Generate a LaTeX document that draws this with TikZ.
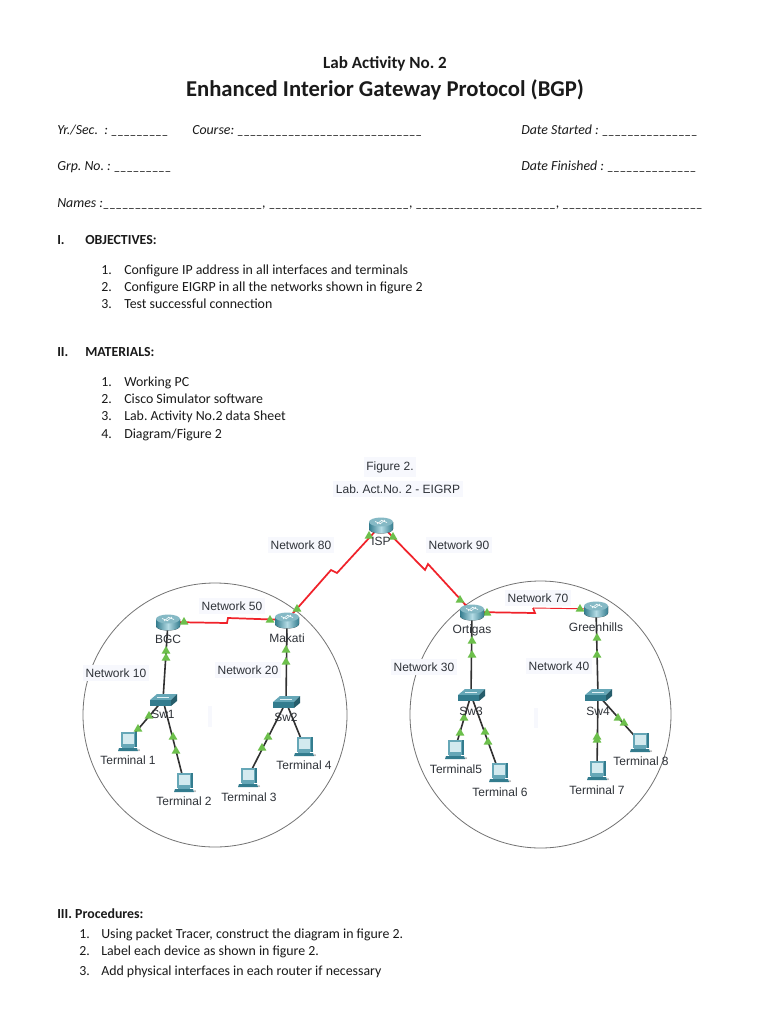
\documentclass[tikz,border=0pt]{standalone}
\usepackage{fontspec}
\setmainfont{Carlito}
\newfontfamily\diag{Liberation Sans}
\frenchspacing
\usetikzlibrary{shapes.geometric}
\definecolor{ink}{HTML}{1A1A1A}
\definecolor{dtext}{HTML}{2E3238}
\definecolor{lampg}{HTML}{6CBF4B}
\definecolor{serial}{HTML}{F0222A}
\definecolor{tealD}{HTML}{337C8E}
\definecolor{tealM}{HTML}{66A7B7}
\definecolor{tealL}{HTML}{B5DCE5}
\definecolor{labelbg}{HTML}{F7F8FD}
\newcommand{\us}[1]{\foreach \k in {1,...,#1}{\_\kern-0.4pt}}
\tikzset{
  doc/.style={anchor=base west,inner sep=0pt,font=\fontsize{10.4pt}{12pt}\selectfont,text=ink},
  form/.style={doc,font=\fontsize{10.4pt}{12pt}\selectfont\itshape},
  head/.style={doc,font=\fontsize{10.4pt}{12pt}\selectfont\bfseries},
  devlabel/.style={inner sep=0pt,font=\diag\fontsize{9pt}{10pt}\selectfont,text=dtext},
  netlabel/.style={devlabel,fill=labelbg,inner xsep=2pt,inner ysep=3pt},
  lan/.style={line width=1.2pt,draw=ink!90},
  wan/.style={line width=1.3pt,draw=serial,line join=miter},
  zone/.style={draw=black!55,line width=0.6pt},
  lamp/.style={regular polygon,regular polygon sides=3,fill=lampg,inner sep=0pt,minimum size=7.5pt},
  router/.pic={
    \fill[left color=tealD,right color=tealD,middle color=tealL] (-12,-3) -- (-12,4) arc[start angle=180,end angle=0,x radius=12,y radius=4.5] -- (12,-3) -- cycle;
    \fill[tealM!80!white] (0,-3) ellipse[x radius=12,y radius=4.5];
    \draw[white!85!tealL,line width=0.5pt] (-6,-3.5) -- (-1,-1.5) (1,-4.5) -- (6,-2.5) (-4,-1) -- (1,-5) (-1,-1) -- (4,-5);
  },
  switchicon/.pic={
    \fill[tealM] (-13,0) -- (-6,-6) -- (14,-6) -- (8,0) -- cycle;
    \fill[tealD] (-13,0) -- (8,0) -- (8,6) -- (-13,6) -- cycle;
    \fill[tealD!75!black] (8,0) -- (14,-6) -- (14,1) -- (8,6) -- cycle;
    \draw[white!60!tealL,line width=0.4pt] (-6,-3) -- (6,-3);
  },
  pcicon/.pic={
    \fill[tealM] (-7,-9) rectangle (8,6);
    \fill[tealD] (6.5,-9) rectangle (9,6);
    \fill[tealL!60!white] (-5,-7) rectangle (6,3);
    \fill[tealD] (-9,7) -- (9,7) -- (10,10) -- (-10,10) -- cycle;
    \fill[tealM] (-6,5) rectangle (6,7);
    \fill[black!35] (11,9) circle (1);
  }
}
\begin{document}
\begin{tikzpicture}[x=0.75pt,y=-0.75pt]
\useasboundingbox[fill=white] (0,0) rectangle (768,1024);

% header
\node[doc,anchor=base,font=\fontsize{12.8pt}{14pt}\selectfont\bfseries] (t1) at (385,69) {Lab Activity No. 2};
\node[doc,anchor=base,font=\fontsize{17pt}{20pt}\selectfont\bfseries] (t2) at (385,96) {Enhanced Interior Gateway Protocol (BGP)};

% form
\node[form] (f1) at (57,134) {Yr./Sec.\ \ : \us{9}};
\node[form] (f2) at (192,134) {Course: \us{29}};
\node[form] (f3) at (521,134) {Date Started : \us{15}};
\node[form] (f4) at (57,170) {Grp. No. : \us{9}};
\node[form] (f5) at (521,170) {Date Finished : \us{14}};
\node[form] (f6) at (57,207) {Names :\us{25}, \us{22}, \us{22}, \us{22}};

% objectives
\node[head] (h1a) at (57,244) {I.};
\node[head] (h1b) at (85,244) {OBJECTIVES:};
\node[doc] (o1n) at (101,274) {1.};
\node[doc] (o1) at (124,274) {Configure IP address in all interfaces and terminals};
\node[doc] (o2n) at (101,291) {2.};
\node[doc] (o2) at (124,291) {Configure EIGRP in all the networks shown in figure 2};
\node[doc] (o3n) at (101,308) {3.};
\node[doc] (o3) at (124,308) {Test successful connection};

% materials
\node[head] (h2a) at (57,356) {II.};
\node[head] (h2b) at (85,356) {MATERIALS:};
\node[doc] (m1n) at (101,386) {1.};
\node[doc] (m1) at (124,386) {Working PC};
\node[doc] (m2n) at (101,403) {2.};
\node[doc] (m2) at (124,403) {Cisco Simulator software};
\node[doc] (m3n) at (101,420) {3.};
\node[doc] (m3) at (124,420) {Lab. Activity No.2 data Sheet};
\node[doc] (m4n) at (101,438) {4.};
\node[doc] (m4) at (124,438) {Diagram/Figure 2};

% procedures
\node[head] (h3) at (57,918) {III. Procedures:};
\node[doc] (p1n) at (79,938) {1.};
\node[doc] (p1) at (101,938) {Using packet Tracer, construct the diagram in figure 2.};
\node[doc] (p2n) at (79,955) {2.};
\node[doc] (p2) at (101,955) {Label each device as shown in figure 2.};
\node[doc] (p3n) at (79,975) {3.};
\node[doc] (p3) at (101,975) {Add physical interfaces in each router if necessary};

% zones
\draw[zone] (215,715) ellipse[x radius=132,y radius=132];
\draw[zone] (540.5,714.5) ellipse[x radius=130.5,y radius=133.5];
\fill[labelbg] (208,706) rectangle (212,727);
\fill[labelbg] (534,708) rectangle (538,728);

% devices
\coordinate (isp) at (381,525);
\coordinate (makati) at (287,620);
\coordinate (bgc) at (168,622);
\coordinate (ortigas) at (472,612);
\coordinate (green) at (596,609);
\coordinate (sw1) at (163,700);
\coordinate (sw2) at (286,702);
\coordinate (sw3) at (471,695);
\coordinate (sw4) at (598,695);
\coordinate (pc1) at (128,741);
\coordinate (pc2) at (184,782);
\coordinate (pc3) at (248,777);
\coordinate (pc4) at (304,746);
\coordinate (pc5) at (455,749);
\coordinate (pc6) at (499,772);
\coordinate (pc7) at (597,770);
\coordinate (pc8) at (640,742);

% serial bends
\coordinate (a1) at (331,570);
\coordinate (a2) at (337,573);
\coordinate (b1) at (425,570);
\coordinate (b2) at (428,564);
\coordinate (c1) at (227,623);
\coordinate (c2) at (228,618);
\coordinate (d1) at (535,613);
\coordinate (d2) at (533,608);

% links
\draw[wan] (isp) -- (a2) -- (a1) -- (makati);
\draw[wan] (isp) -- (b1) -- (b2) -- (ortigas);
\draw[wan] (bgc) -- (c1) -- (c2) -- (makati);
\draw[wan] (ortigas) -- (d1) -- (d2);
\draw[wan,line width=0.7pt] (d2) -- (green);
\foreach \from/\to in {sw1/bgc,sw2/makati,sw3/ortigas,sw4/green,sw1/pc1,sw1/pc2,sw2/pc3,sw2/pc4,sw3/pc5,sw3/pc6,sw4/pc7,sw4/pc8}
  \draw[lan] (\from) -- (\to);

% link lights
\foreach \p [count=\i] in {(184,622),(270,620),(297,609),(369,536),(393,537),(460,600),(487,613),(580,609),
  (166,651),(166,658),(286,650),(286,662),(149,716),(138,729),(173,737),(176,751),(268,737),(262,748),
  (472,641),(472,655),(597,638),(597,655),(464,718),(460,733),(485,732),(488,742),(597,737),(597,740),(618,718),(624,723)}
  \node[lamp] (lamp\i) at \p {};

% icons
\foreach \c in {isp,makati,bgc,ortigas,green} \pic at (\c) {router};
\foreach \c in {sw1,sw2,sw3,sw4} \pic at (\c) {switchicon};
\foreach \c in {pc1,pc2,pc3,pc4,pc5,pc6,pc7,pc8} \pic at (\c) {pcicon};

% labels
\node[netlabel] (fig) at (390,467) {Figure 2.};
\node[netlabel] (lab) at (398,489) {Lab. Act.No. 2 - EIGRP};
\node[netlabel] (n80) at (301,545) {Network 80};
\node[netlabel] (n90) at (459,545) {Network 90};
\node[netlabel] (n50) at (232,606) {Network 50};
\node[netlabel] (n70) at (538,598) {Network 70};
\node[netlabel] (n10) at (116,673) {Network 10};
\node[netlabel] (n20) at (248,670) {Network 20};
\node[netlabel] (n30) at (424,667) {Network 30};
\node[netlabel] (n40) at (559,666) {Network 40};
\node[devlabel] (lisp) at (381,541) {ISP};
\node[devlabel] (lbgc) at (168,639) {BGC};
\node[devlabel] (lmak) at (287,638) {Makati};
\node[devlabel] (lort) at (472,630) {Ortigas};
\node[devlabel] (lgre) at (596,627) {Greenhills};
\node[devlabel] (lsw1) at (163,714) {Sw1};
\node[devlabel] (lsw2) at (286,717) {Sw2};
\node[devlabel] (lsw3) at (471,711) {Sw3};
\node[devlabel] (lsw4) at (598,711) {Sw4};
\node[devlabel] (lt1) at (128,760) {Terminal 1};
\node[devlabel] (lt2) at (184,801) {Terminal 2};
\node[devlabel] (lt3) at (249,797) {Terminal 3};
\node[devlabel] (lt4) at (304,765) {Terminal 4};
\node[devlabel] (lt5) at (456,769) {Terminal5};
\node[devlabel] (lt6) at (500,792) {Terminal 6};
\node[devlabel] (lt7) at (597,790) {Terminal 7};
\node[devlabel] (lt8) at (641,761) {Terminal 8};
\end{tikzpicture}
\end{document}
